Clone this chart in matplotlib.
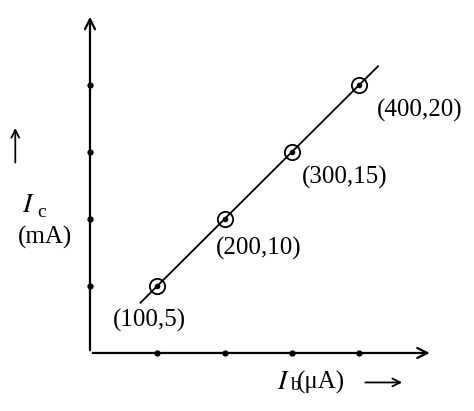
import matplotlib
matplotlib.use("Agg")
import matplotlib.pyplot as plt

ib = [100, 200, 300, 400]
ic = [5, 10, 15, 20]
labels = ["(100,5)", "(200,10)", "(300,15)", "(400,20)"]
label_pos = [(89, 2.46), (250, 7.8), (379, 13.1), (490, 18.1)]

plt.rcParams['font.family'] = ['Liberation Serif', 'DejaVu Serif']
plt.rcParams['mathtext.fontset'] = 'stix'
fig = plt.figure(figsize=(4.74, 4.11), dpi=100)
ax = fig.add_axes([0, 0, 1, 1])
ax.set_xlim(-133.7, 570.6)
ax.set_ylim(-4.33, 26.34)
ax.axis('off')

ax.annotate("", xy=(509, 0), xytext=(0, 0),
            arrowprops=dict(arrowstyle="->", lw=1.6, color="black", mutation_scale=18))
ax.annotate("", xy=(0, 25.3), xytext=(0, 0),
            arrowprops=dict(arrowstyle="->", lw=1.6, color="black", mutation_scale=18))
ax.plot(ib, [0]*4, 'o', color='black', ms=3.5, clip_on=False)
ax.plot([0]*4, ic, 'o', color='black', ms=3.5, clip_on=False)

ax.plot([75, 428], [75/20, 428/20], color='black', lw=1.3)
ax.plot(ib, ic, 'o', mfc='none', mec='black', ms=11, mew=1.3)
ax.plot(ib, ic, 'o', color='black', ms=3)

for t, (x, y) in zip(labels, label_pos):
    ax.text(x, y, t, fontsize=18, ha='center', va='center')

ax.annotate("", xy=(-111, 17.0), xytext=(-111, 14.0),
            arrowprops=dict(arrowstyle="->", lw=1.3, color="black", mutation_scale=14))
ax.text(-92, 11.0, r"$I$", fontsize=20, ha='center', va='center')
ax.text(-78, 10.5, "c", fontsize=14, ha='left', va='center')
ax.text(-67, 8.6, "(mA)", fontsize=18, ha='center', va='center')

ax.text(287, -2.2, r"$I$", fontsize=20, ha='center', va='center')
ax.text(298, -2.4, "b", fontsize=14, ha='left', va='center')
ax.text(308, -2.2, "(μA)", fontsize=18, ha='left', va='center')
ax.annotate("", xy=(468, -2.2), xytext=(405, -2.2),
            arrowprops=dict(arrowstyle="->", lw=1.3, color="black", mutation_scale=14))

fig.savefig("out.png", dpi=100)
